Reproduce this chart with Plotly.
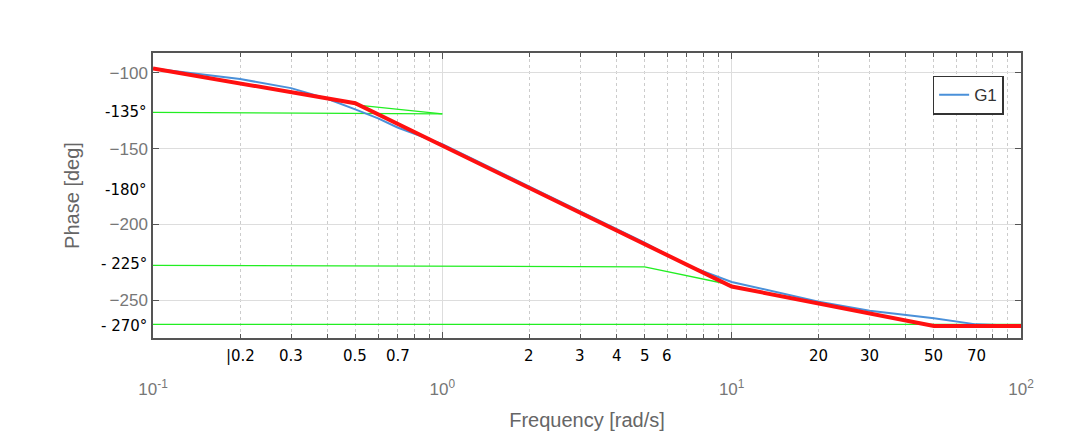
import math
import plotly.graph_objects as go

# G1 phase
freq_g1 = [0.1, 0.2, 0.3, 0.4, 0.5, 0.6, 0.7, 1, 2, 5, 7, 10, 20, 30, 50, 60, 70, 100]
phase_g1 = [-97, -104, -110, -117, -124, -130, -136, -147, -175, -212, -227, -238,
            -251, -257, -262, -264, -266, -267]

# hand-drawn red asymptote
freq_red = [0.1, 0.5, 10, 50, 100]
phase_red = [-97, -120, -241, -267, -267]

# hand-drawn green construction lines
green_lines = [
    ([0.1, 1], [-126, -127]),
    ([0.5, 1], [-121, -127]),
    ([0.1, 5, 10], [-227, -228, -240]),
    ([0.1, 100], [-266, -266]),
]

hand_y = [(-83, "- 90°"), (-126, "-135°"), (-177, "-180°"), (-226, "- 225°"), (-267, "- 270°")]
hand_x = [0.2, 0.3, 0.5, 0.7, 2, 3, 4, 5, 6, 20, 30, 50, 70]
hand_x_text = ["|0.2", "0.3", "0.5", "0.7", "2", "3", "4", "5", "6", "20", "30", "50", "70"]

fig = go.Figure()
for xs, ys in green_lines:
    fig.add_trace(go.Scatter(x=xs, y=ys, mode="lines", line=dict(color="#22ee22", width=1.3),
                             showlegend=False, hoverinfo="skip"))
fig.add_trace(go.Scatter(x=freq_g1, y=phase_g1, mode="lines", name="G1",
                         line=dict(color="#4a90d9", width=2)))
fig.add_trace(go.Scatter(x=freq_red, y=phase_red, mode="lines", showlegend=False,
                         line=dict(color="#ff1010", width=4)))

hand_font = dict(family="DejaVu Sans", size=15, color="black")
for yv, t in hand_y:
    fig.add_annotation(x=-0.005, xref="paper", y=yv, yref="y", text=t, showarrow=False,
                       xanchor="right", font=hand_font)
for xv, t in zip(hand_x, hand_x_text):
    fig.add_annotation(x=math.log10(xv), y=-0.1, yref="paper", text=t,
                       showarrow=False, font=hand_font)

tick_font = dict(family="Liberation Sans", size=17, color="#777777")
fig.update_layout(
    width=1077, height=441,
    margin=dict(l=145, r=64, t=45, b=111),
    plot_bgcolor="white", paper_bgcolor="white",
    xaxis=dict(type="log", range=[-1, 2],
               tickvals=[0.1, 1, 10, 100],
               ticktext=["10<sup>-1</sup>", "10<sup>0</sup>", "10<sup>1</sup>", "10<sup>2</sup>"],
               tickfont=tick_font, ticklabelstandoff=35,
               title=dict(text="Frequency [rad/s]", font=dict(family="Liberation Sans", size=20, color="#666666")),
               showgrid=True, gridcolor="#dddddd",
               minor=dict(dtick="D1", showgrid=True, griddash="dot", gridcolor="#cccccc", ticks="inside",
                          ticklen=4, tickcolor="#555555"),
               ticks="inside", ticklen=6, tickcolor="#555555",
               showline=True, linecolor="#555555", linewidth=1.5, mirror="ticks", zeroline=False),
    yaxis=dict(range=[-275, -86.8], tickvals=[-250, -200, -150, -100],
               tickfont=tick_font,
               title=dict(text="Phase [deg]", font=dict(family="Liberation Sans", size=20, color="#666666"),
                          standoff=25),
               showgrid=True, gridcolor="#dddddd",
               ticks="inside", ticklen=6, tickcolor="#555555",
               showline=True, linecolor="#555555", linewidth=1.5, mirror="ticks", zeroline=False),
    legend=dict(x=0.98, y=0.92, xanchor="right", yanchor="top", bgcolor="white",
                bordercolor="#333333", borderwidth=1.5,
                font=dict(family="Liberation Sans", size=17, color="#333333")),
)

fig.write_html("out.html")
